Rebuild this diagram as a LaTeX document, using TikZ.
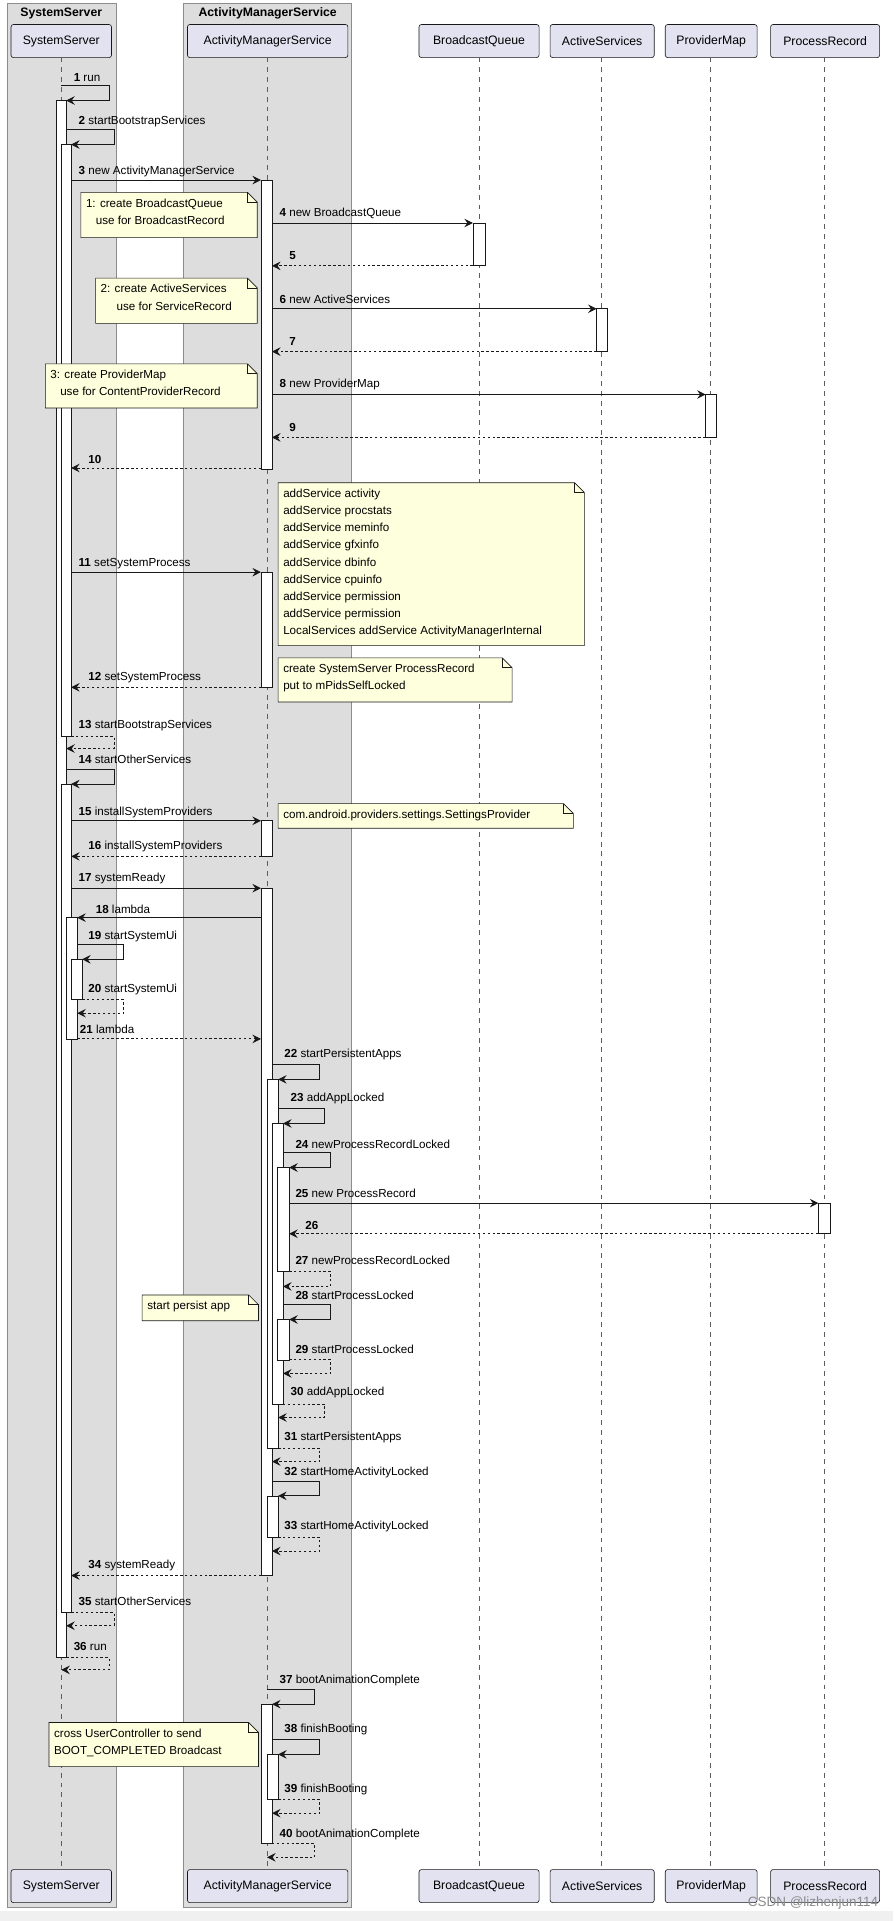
\documentclass[tikz,border=0pt]{standalone}
\usepackage{fontspec}
\setmainfont{Liberation Sans}
\usetikzlibrary{arrows.meta}
\definecolor{ink}{HTML}{181818}
\definecolor{partfill}{HTML}{E2E2F0}
\definecolor{notefill}{HTML}{FEFFDD}
\definecolor{grpfill}{HTML}{DDDDDD}
\newcommand\ActB[4]{\draw[actv] (#1,#3) rectangle (#2,#4);}
\newcommand\SelfM[6]{\draw[#6] (#1,#3) -- (#2,#3) -- (#2,#4) -- (#5,#4);}
\newcommand\Lbl[4]{\node[lbl] at (#1,#2) {\textbf{#3} #4};}
\newcommand\NoteB[5]{\draw[notes] (#1,#2) -- (#3-8,#2) -- (#3,#2+8) -- (#3,#4) -- (#1,#4) -- cycle;
  \draw[ink,line width=0.5pt] (#3-8,#2) -- (#3-8,#2+8) -- (#3,#2+8);
  \node[anchor=north west,inner sep=0pt,align=left,font=\fontsize{9.5}{14}\selectfont,text=black] at (#1+4,#2+5) {#5};}
\begin{document}
\begin{tikzpicture}[x=1pt,y=-1pt,
  part/.style={draw=ink,fill=partfill,rounded corners=2pt,line width=0.5pt,minimum height=27pt,inner sep=0pt,font=\fontsize{10}{12}\selectfont},
  actv/.style={draw=ink,fill=white,line width=0.6pt},
  arr/.style={draw=ink,line width=0.7pt,-{Stealth[length=7pt,width=7pt,inset=2.5pt]}},
  ret/.style={arr,dash pattern=on 2pt off 2pt},
  lbl/.style={anchor=west,inner sep=0pt,font=\fontsize{9.5}{11}\selectfont,text=black},
  notes/.style={draw=ink,fill=notefill,line width=0.5pt},
  life/.style={draw=ink!70,line width=0.5pt,dash pattern=on 4pt off 4pt}]
\useasboundingbox (0,0) rectangle (729,1568);
\fill[white] (0,0) rectangle (729,1568);
\fill[black!6] (0,1560) rectangle (729,1568);
% groups
\draw[fill=grpfill,draw=black!45,line width=0.6pt] (6,3) rectangle (95,1557);
\draw[fill=grpfill,draw=black!45,line width=0.6pt] (150,3) rectangle (287,1557);
\node[font=\bfseries\fontsize{10}{12}\selectfont] (g1) at (50,11) {SystemServer};
\node[font=\bfseries\fontsize{10}{12}\selectfont] (g2) at (218.5,11) {ActivityManagerService};
% lifelines
\foreach \x in {50,218,391,491,580,673} \draw[life] (\x,47) -- (\x,1526);
% participants
\foreach \n/\x/\w/\t in {ss/50/82/SystemServer,ams/218.5/131/ActivityManagerService,bq/391/98/BroadcastQueue,as/491.5/85/ActiveServices,pm/580.5/75/ProviderMap,pr/673.5/89/ProcessRecord}{
  \node[part,minimum width=\w pt] (\n top) at (\x,33.5) {\t};
  \node[part,minimum width=\w pt] (\n bot) at (\x,1539.5) {\t};}
% activations
\ActB{46}{54}{82}{1353}
\ActB{50}{58}{118}{601}
\ActB{50}{58}{640}{1316}
\ActB{54}{63}{749}{848}
\ActB{58}{67}{783}{816}
\ActB{213}{222}{147}{383}
\ActB{213}{222}{467}{561}
\ActB{213}{222}{670}{699}
\ActB{213}{222}{725}{1286}
\ActB{218}{227}{881}{1182}
\ActB{222}{231}{917}{1146}
\ActB{226}{236}{953}{1038}
\ActB{226}{236}{1077}{1110}
\ActB{218}{227}{1221}{1255}
\ActB{213}{222}{1391}{1505}
\ActB{218}{227}{1432}{1469}
\ActB{386}{396}{182}{217}
\ActB{487}{496}{252}{287}
\ActB{576}{585}{322}{357}
\ActB{668}{678}{982}{1007}
% messages
\SelfM{50}{89}{70}{82}{54}{arr}
\SelfM{54}{93}{106}{118}{58}{arr}
\draw[arr] (58,147) -- (213,147);
\draw[arr] (222,182) -- (386,182);
\draw[ret] (386,217) -- (222,217);
\draw[arr] (222,252) -- (487,252);
\draw[ret] (487,287) -- (222,287);
\draw[arr] (222,322) -- (576,322);
\draw[ret] (576,357) -- (222,357);
\draw[ret] (213,382) -- (58,382);
\draw[arr] (58,467) -- (213,467);
\draw[ret] (213,561) -- (58,561);
\SelfM{58}{93}{601}{611}{54}{ret}
\SelfM{54}{93}{628}{640}{58}{arr}
\draw[arr] (58,670) -- (213,670);
\draw[ret] (213,699) -- (58,699);
\draw[arr] (58,725) -- (213,725);
\draw[arr] (213,749) -- (63,749);
\SelfM{63}{101}{771}{783}{67}{arr}
\SelfM{67}{101}{816}{827}{63}{ret}
\draw[ret] (63,848) -- (213,848);
\SelfM{222}{261}{869}{881}{227}{arr}
\SelfM{227}{265}{905}{917}{231}{arr}
\SelfM{231}{270}{941}{953}{236}{arr}
\draw[arr] (236,982) -- (668,982);
\draw[ret] (668,1007) -- (236,1007);
\SelfM{236}{270}{1038}{1050}{231}{ret}
\SelfM{231}{270}{1065}{1077}{236}{arr}
\SelfM{236}{270}{1110}{1121}{231}{ret}
\SelfM{231}{265}{1146}{1157}{227}{ret}
\SelfM{227}{261}{1182}{1193}{222}{ret}
\SelfM{222}{261}{1209}{1221}{227}{arr}
\SelfM{227}{261}{1255}{1266}{222}{ret}
\draw[ret] (213,1286) -- (58,1286);
\SelfM{58}{93}{1316}{1327}{54}{ret}
\SelfM{54}{89}{1353}{1363}{50}{ret}
\SelfM{218}{257}{1379}{1391}{222}{arr}
\SelfM{222}{261}{1420}{1432}{227}{arr}
\SelfM{227}{261}{1469}{1480}{222}{ret}
\SelfM{222}{257}{1505}{1516}{218}{ret}
% labels
\Lbl{60}{63}{1}{run}
\Lbl{64}{99}{2}{startBootstrapServices}
\Lbl{64}{140}{3}{new ActivityManagerService}
\Lbl{228}{174}{4}{new BroadcastQueue}
\Lbl{236}{209}{5}{}
\Lbl{228}{244}{6}{new ActiveServices}
\Lbl{236}{279}{7}{}
\Lbl{228}{314}{8}{new ProviderMap}
\Lbl{236}{349}{9}{}
\Lbl{72}{375}{10}{}
\Lbl{64}{460}{11}{setSystemProcess}
\Lbl{72}{553}{12}{setSystemProcess}
\Lbl{64}{592}{13}{startBootstrapServices}
\Lbl{64}{620}{14}{startOtherServices}
\Lbl{64}{663}{15}{installSystemProviders}
\Lbl{72}{691}{16}{installSystemProviders}
\Lbl{64}{717}{17}{systemReady}
\Lbl{78}{742}{18}{lambda}
\Lbl{72}{764}{19}{startSystemUi}
\Lbl{72}{808}{20}{startSystemUi}
\Lbl{65}{840}{21}{lambda}
\Lbl{232}{861}{22}{startPersistentApps}
\Lbl{237}{897}{23}{addAppLocked}
\Lbl{241}{934}{24}{newProcessRecordLocked}
\Lbl{241}{974}{25}{new ProcessRecord}
\Lbl{249}{1000}{26}{}
\Lbl{241}{1029}{27}{newProcessRecordLocked}
\Lbl{241}{1057}{28}{startProcessLocked}
\Lbl{241}{1101}{29}{startProcessLocked}
\Lbl{237}{1137}{30}{addAppLocked}
\Lbl{232}{1173}{31}{startPersistentApps}
\Lbl{232}{1202}{32}{startHomeActivityLocked}
\Lbl{232}{1246}{33}{startHomeActivityLocked}
\Lbl{72}{1278}{34}{systemReady}
\Lbl{64}{1307}{35}{startOtherServices}
\Lbl{60}{1344}{36}{run}
\Lbl{228}{1372}{37}{bootAnimationComplete}
\Lbl{232}{1412}{38}{finishBooting}
\Lbl{232}{1461}{39}{finishBooting}
\Lbl{228}{1497}{40}{bootAnimationComplete}
% notes
\NoteB{66}{157}{210}{194}{1: create BroadcastQueue\\\hspace*{8pt}use for BroadcastRecord}
\NoteB{78}{227}{210}{264}{2: create ActiveServices\\\hspace*{13pt}use for ServiceRecord}
\NoteB{37}{297}{210}{333}{3: create ProviderMap\\\hspace*{8pt}use for ContentProviderRecord}
\NoteB{227}{394}{477}{527}{addService activity\\addService procstats\\addService meminfo\\addService gfxinfo\\addService dbinfo\\addService cpuinfo\\addService permission\\addService permission\\LocalServices addService ActivityManagerInternal}
\NoteB{227}{537}{418}{573}{create SystemServer ProcessRecord\\put to mPidsSelfLocked}
\NoteB{227}{656}{468}{676}{com.android.providers.settings.SettingsProvider}
\NoteB{116}{1057}{211}{1078}{start persist app}
\NoteB{40}{1406}{211}{1442}{cross UserController to send\\BOOT\_COMPLETED Broadcast}
\node[anchor=east,inner sep=0pt,font=\fontsize{11}{13}\selectfont,text=black!45] (wm) at (717,1553) {CSDN @lizhenjun114};
\end{tikzpicture}
\end{document}
